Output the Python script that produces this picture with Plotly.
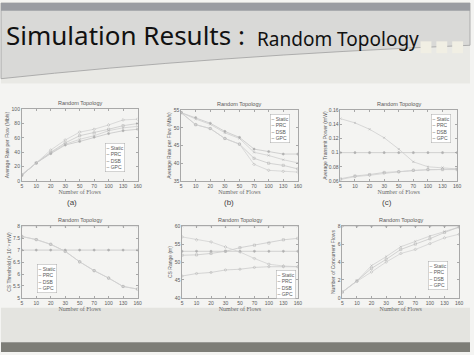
import plotly.graph_objects as go

W, H = 474, 355

# ---------------- data ----------------
flows = ["5", "10", "20", "30", "50", "70", "100", "130", "160"]
series_names = ["Static", "PRC", "DSB", "GPC"]

rate_static = [8, 25, 38, 50, 55, 61, 66, 70, 72]
rate_prc = [8, 25, 39, 51, 58, 63, 70, 74, 76]
rate_dsb = [8, 25, 40, 53, 63, 67, 72, 77, 80]
rate_gpc = [9, 25, 43, 57, 68, 72, 78, 85, 86]

rateb_static = [54.3, 52.9, 51.3, 49.0, 47.3, 44.0, 43.3, 42.6, 42.6]
rateb_prc = [54.3, 52.5, 51.0, 48.6, 47.0, 43.1, 42.2, 41.0, 40.1]
rateb_dsb = [54.3, 50.9, 49.8, 47.0, 45.4, 41.4, 40.0, 39.4, 38.4]
rateb_gpc = [54.3, 50.9, 49.8, 47.0, 45.4, 39.7, 38.0, 37.7, 37.5]

power_static = [0.1, 0.1, 0.1, 0.1, 0.1, 0.1, 0.1, 0.1, 0.1]
power_prc = [0.148, 0.142, 0.133, 0.121, 0.105, 0.087, 0.080, 0.079, 0.077]
power_dsb = [0.063, 0.067, 0.069, 0.072, 0.073, 0.075, 0.076, 0.076, 0.076]
power_gpc = [0.062, 0.066, 0.068, 0.071, 0.073, 0.075, 0.076, 0.077, 0.077]

cst_static = [7, 7, 7, 7, 7, 7, 7, 7, 7]
cst_prc = [8, 8, 8, 8, 8, 8, 8, 8, 8]
cst_dsb = [7.57, 7.44, 7.24, 6.95, 6.51, 6.14, 5.83, 5.48, 5.37]
cst_gpc = [7.57, 7.44, 7.24, 6.95, 6.51, 6.14, 5.83, 5.48, 5.37]

csr_static = [53, 53, 53, 53, 53, 53, 53, 53, 53]
csr_prc = [60, 60, 60, 60, 60, 60, 60, 60, 60]
csr_dsb = [51.9, 52.0, 52.4, 53.0, 54.0, 54.7, 55.3, 56.2, 56.6]
csr_gpc = [57.0, 56.2, 55.6, 54.2, 52.8, 51.0, 49.4, 48.9, 48.7]
csr_extra = [46.1, 46.8, 47.1, 47.8, 48.0, 48.5, 48.7, 48.7, 48.7]

conc_static = [8, 8, 8, 8, 8, 8, 8, 8, 8]
conc_prc = [0.66, 1.9, 3.6, 4.6, 5.7, 6.3, 6.9, 7.4, 7.9]
conc_dsb = [0.66, 1.9, 3.3, 4.3, 5.4, 6.0, 6.6, 7.3, 7.9]
conc_gpc = [0.66, 1.85, 2.9, 4.0, 4.95, 5.4, 6.05, 6.7, 7.1]

panels = [
    dict(series=[rate_static, rate_prc, rate_dsb, rate_gpc], yr=[0, 100], dt=20,
         ytitle="Average Rate per Flow (Mb/s)", px=(21, 138), py=(108, 181), leg=(105, 142)),
    dict(series=[rateb_static, rateb_prc, rateb_dsb, rateb_gpc], yr=[35, 55], dt=5,
         ytitle="Average Rate per Flow (Mb/s)", px=(182, 300), py=(109, 181), leg=(272, 113)),
    dict(series=[power_static, power_prc, power_dsb, power_gpc], yr=[0.06, 0.16], dt=0.02,
         ytitle="Average Transmit Power (mW)", px=(343, 461), py=(109, 181), leg=(435, 113)),
    dict(series=[cst_static, cst_prc, cst_dsb, cst_gpc], yr=[5, 8], dt=0.5,
         ytitle="CS Threshold (\u00d7 10\u207b\u2078 mW)", px=(21, 138), py=(227, 300), leg=(36, 265)),
    dict(series=[csr_static, csr_prc, csr_dsb, csr_gpc, csr_extra], yr=[40, 60], dt=5,
         ytitle="CS Range (m)", px=(183, 300), py=(227, 300), leg=(278, 272)),
    dict(series=[conc_static, conc_prc, conc_dsb, conc_gpc], yr=[0, 8], dt=2,
         ytitle="Number of Concurrent Flows", px=(345, 463), py=(227, 300), leg=(432, 262)),
]

symbols = ["circle", "x-thin", "square-open", "diamond-open", "circle-open"]
line_colors = ["#c6c6c6", "#cfcfcf", "#c9c9c9", "#d2d2d2", "#cbcbcb"]

fig = go.Figure()
annotations = []
shapes = []

# background decoration
shapes.append(dict(type="rect", xref="paper", yref="paper", x0=0, x1=1, y0=0, y1=1,
                   fillcolor="#f4f4f2", line=dict(width=0), layer="below"))
shapes.append(dict(type="rect", xref="paper", yref="paper", x0=0, x1=1,
                   y0=1 - 82 / H, y1=1, fillcolor="#e9e9e5", line=dict(width=0), layer="below"))
shapes.append(dict(type="path", xref="paper", yref="paper",
                   path=f"M 0 {1-77/H} Q {0.45} {1-54/H} 1 {1-43/H} L 1 1 L 0 1 Z",
                   fillcolor="#d9d9d7", line=dict(color="#a0a0a0", width=0.8), layer="below"))
shapes.append(dict(type="rect", xref="paper", yref="paper", x0=0, x1=1,
                   y0=1 - 8 / H, y1=1, fillcolor="#9a9ca2", line=dict(width=0), layer="below"))
for sx in (424, 440, 456):
    shapes.append(dict(type="rect", xref="paper", yref="paper", x0=sx / W, x1=(sx + 11) / W,
                       y0=1 - 51 / H, y1=1 - 39 / H, fillcolor="#f1efe4",
                       line=dict(width=0), layer="below"))
shapes.append(dict(type="rect", xref="paper", yref="paper", x0=0, x1=1,
                   y0=1 - 345 / H, y1=1 - 310 / H, fillcolor="#e4e4e0", line=dict(width=0), layer="below"))
shapes.append(dict(type="rect", xref="paper", yref="paper", x0=0, x1=1,
                   y0=0, y1=1 - 345 / H, fillcolor="#7d7d77", line=dict(width=0), layer="below"))

tick_font = dict(family="Liberation Sans", size=5, color="#5a5a5a")
layout_axes = {}
for i, p in enumerate(panels):
    n = "" if i == 0 else str(i + 1)
    xa, ya = "x" + n, "y" + n
    for j, ys in enumerate(p["series"]):
        fig.add_trace(go.Scatter(
            x=flows, y=ys, xaxis=xa, yaxis=ya, mode="lines+markers",
            line=dict(color=line_colors[j], width=0.8),
            marker=dict(symbol=symbols[j], size=2.2, color="#b0b0b0",
                        line=dict(width=0.5, color="#b0b0b0")),
            showlegend=False))
    x0, x1 = p["px"]
    y0, y1 = p["py"]
    common = dict(showline=True, linecolor="#a8a8a8", linewidth=0.7, mirror="ticks",
                  ticks="inside", ticklen=2, tickcolor="#a8a8a8", showgrid=False,
                  zeroline=False, tickfont=tick_font)
    layout_axes["xaxis" + n] = dict(
        domain=[x0 / W, x1 / W], anchor=ya, type="category", range=[0, 8],
        title=dict(text="Number of Flows", standoff=0,
                   font=dict(family="Liberation Serif", size=6, color="#6a6a6a")),
        **common)
    layout_axes["yaxis" + n] = dict(
        domain=[1 - y1 / H, 1 - y0 / H], anchor=xa, range=p["yr"], dtick=p["dt"],
        title=dict(text=p["ytitle"], standoff=1,
                   font=dict(family="Liberation Sans", size=5, color="#5a5a5a")),
        **common)
    # panel title
    annotations.append(dict(text="Random Topology", xref="paper", yref="paper",
                            x=(x0 + x1) / 2 / W, y=1 - (y0 - 1) / H, xanchor="center",
                            yanchor="bottom", showarrow=False,
                            font=dict(family="Liberation Sans", size=5.5, color="#5a5a5a")))
    # legend box
    lx, ly = p["leg"]
    annotations.append(dict(
        text="<br>".join("\u2013 " + s for s in series_names),
        xref="paper", yref="paper", x=lx / W, y=1 - ly / H, xanchor="left", yanchor="top",
        align="left", showarrow=False, bgcolor="#ffffff", bordercolor="#a8a8a8",
        borderwidth=0.5, borderpad=1,
        font=dict(family="Liberation Sans", size=5, color="#5a5a5a")))

for lab, cx in (("(a)", 72), ("(b)", 230), ("(c)", 390)):
    annotations.append(dict(text=lab, xref="paper", yref="paper", x=cx / W, y=1 - 203 / H,
                            xanchor="center", yanchor="middle", showarrow=False,
                            font=dict(family="Liberation Sans", size=8, color="#444444")))

annotations.append(dict(
    text="Simulation Results :",
    xref="paper", yref="paper", x=3 / W, y=1 - 53 / H, xanchor="left", yanchor="bottom",
    showarrow=False, font=dict(family="Noto Sans", size=26, color="#111111")))
annotations.append(dict(
    text="Random Topology",
    xref="paper", yref="paper", x=257 / W, y=1 - 52 / H, xanchor="left", yanchor="bottom",
    showarrow=False, font=dict(family="Noto Sans", size=19, color="#111111")))

fig.update_layout(
    width=W, height=H, margin=dict(l=0, r=0, t=0, b=0),
    paper_bgcolor="#f4f4f2", plot_bgcolor="#ffffff",
    shapes=shapes, annotations=annotations, showlegend=False,
    **layout_axes)

fig.write_html("out.html")
